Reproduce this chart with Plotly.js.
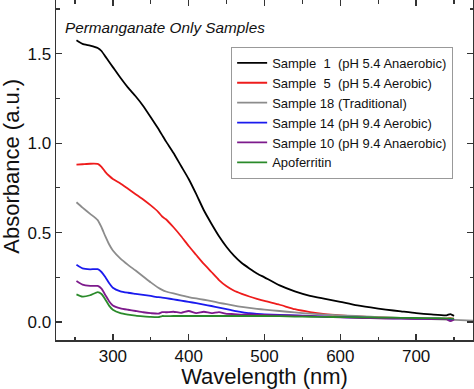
<!DOCTYPE html>
<html>
<head>
<meta charset="utf-8">
<script src="https://cdn.plot.ly/plotly-3.0.1.min.js"></script>
<style>html,body{margin:0;padding:0;background:#fff;}#chart{width:474px;height:389px;}</style>
</head>
<body>
<div id="chart"></div>
<script>
const wavelength = [252, 260, 270, 280, 285, 290, 295, 300, 310, 320, 330, 340, 350, 360, 365, 370, 380, 390, 400, 410, 420, 430, 440, 450, 460, 470, 480, 490, 500, 520, 540, 560, 580, 600, 620, 640, 660, 680, 700, 720, 740, 745, 750];

const sample1 = [1.575, 1.555, 1.545, 1.532, 1.515, 1.485, 1.455, 1.425, 1.365, 1.31, 1.262, 1.208, 1.145, 1.08, 1.045, 1.01, 0.945, 0.872, 0.80, 0.715, 0.625, 0.55, 0.48, 0.42, 0.37, 0.33, 0.30, 0.272, 0.25, 0.205, 0.172, 0.147, 0.13, 0.113, 0.095, 0.082, 0.07, 0.06, 0.05, 0.043, 0.038, 0.045, 0.035];
const sample5 = [0.88, 0.882, 0.885, 0.884, 0.868, 0.84, 0.818, 0.80, 0.775, 0.745, 0.715, 0.685, 0.652, 0.615, 0.59, 0.575, 0.53, 0.48, 0.425, 0.375, 0.325, 0.28, 0.235, 0.20, 0.175, 0.158, 0.143, 0.13, 0.118, 0.097, 0.072, 0.056, 0.045, 0.038, 0.032, 0.028, 0.025, 0.023, 0.021, 0.02, 0.019, 0.022, 0.018];
const sample18 = [0.67, 0.64, 0.605, 0.57, 0.53, 0.48, 0.435, 0.40, 0.355, 0.32, 0.288, 0.255, 0.222, 0.192, 0.18, 0.171, 0.16, 0.15, 0.14, 0.132, 0.125, 0.117, 0.108, 0.10, 0.092, 0.085, 0.079, 0.074, 0.07, 0.062, 0.054, 0.047, 0.042, 0.038, 0.034, 0.03, 0.026, 0.023, 0.02, 0.017, 0.014, 0.013, 0.012];
const sample18TailWl = [775];
const sample18Tail = [0.008];
const sample14 = [0.32, 0.30, 0.295, 0.296, 0.28, 0.252, 0.218, 0.192, 0.172, 0.164, 0.158, 0.152, 0.146, 0.139, 0.137, 0.134, 0.127, 0.12, 0.113, 0.106, 0.098, 0.09, 0.081, 0.072, 0.063, 0.056, 0.05, 0.046, 0.043, 0.04, 0.037, 0.034, 0.03, 0.028, 0.026, 0.024, 0.022, 0.021, 0.02, 0.019, 0.018, 0.012, 0.018];
const sample10 = [0.23, 0.21, 0.203, 0.202, 0.187, 0.152, 0.117, 0.093, 0.077, 0.069, 0.062, 0.055, 0.05, 0.047, 0.056, 0.055, 0.058, 0.052, 0.062, 0.05, 0.058, 0.05, 0.056, 0.046, 0.045, 0.042, 0.043, 0.041, 0.04, 0.038, 0.036, 0.033, 0.03, 0.027, 0.024, 0.022, 0.02, 0.019, 0.018, 0.017, 0.016, 0.005, 0.015];
const apoferritin = [0.155, 0.142, 0.15, 0.168, 0.157, 0.127, 0.092, 0.069, 0.05, 0.042, 0.036, 0.032, 0.029, 0.028, 0.034, 0.033, 0.034, 0.034, 0.034, 0.034, 0.034, 0.034, 0.034, 0.034, 0.034, 0.034, 0.034, 0.034, 0.034, 0.033, 0.031, 0.03, 0.029, 0.028, 0.027, 0.026, 0.025, 0.024, 0.023, 0.022, 0.021, 0.02, 0.02];

const seriesNames = [
  "Sample\u00a0\u00a01\u00a0\u00a0(pH 5.4 Anaerobic)",
  "Sample\u00a0\u00a05\u00a0\u00a0(pH 5.4 Aerobic)",
  "Sample 18 (Traditional)",
  "Sample 14 (pH 9.4 Aerobic)",
  "Sample 10 (pH 9.4 Anaerobic)",
  "Apoferritin"
];
const seriesColors = ["#000000", "#ee1c1c", "#8c8c8c", "#1a1aee", "#7d1a8c", "#2a8a2a"];
const seriesValues = [sample1, sample5, sample18, sample14, sample10, apoferritin];

const traces = seriesValues.map((vals, i) => {
  let xs = wavelength.slice(), ys = vals.slice();
  if (i === 2) { xs = xs.concat(sample18TailWl); ys = ys.concat(sample18Tail); }
  return {
    x: xs, y: ys, type: "scatter", mode: "lines", name: seriesNames[i],
    line: {color: seriesColors[i], width: 1.8, shape: "spline", smoothing: 0.5}
  };
});

const FONT = "Liberation Sans, Arial, sans-serif";
const axisCommon = {
  showline: true, linecolor: "#333", linewidth: 1.5, mirror: "ticks",
  ticks: "inside", ticklen: 6, tickwidth: 1.3, tickcolor: "#333",
  showgrid: false, zeroline: false,
  tickfont: {family: FONT, size: 17, color: "#111"}
};

const layout = {
  width: 474, height: 389,
  margin: {l: 56, r: 1, t: 0, b: 49},
  paper_bgcolor: "#fff", plot_bgcolor: "#fff",
  showlegend: true,
  legend: {
    x: 0.42, y: 0.862, xanchor: "left", yanchor: "top",
    bgcolor: "#fff", bordercolor: "#999", borderwidth: 1,
    font: {family: FONT, size: 13, color: "#111"},
    tracegroupgap: 0
  },
  xaxis: Object.assign({}, axisCommon, {
    range: [225, 775], dtick: 100, tick0: 0,
    minor: {dtick: 50, ticks: "inside", ticklen: 3.5, tickcolor: "#333", tickwidth: 1.2},
    title: {text: "Wavelength (nm)", font: {family: FONT, size: 22, color: "#111"}, standoff: 4}
  }),
  yaxis: Object.assign({}, axisCommon, {
    range: [-0.1, 1.8], dtick: 0.5, tick0: 0, tickformat: ".1f",
    minor: {dtick: 0.25, ticks: "inside", ticklen: 3.5, tickcolor: "#333", tickwidth: 1.2}
  }),
  annotations: [{
    text: "<i>Permanganate Only Samples</i>", xref: "paper", yref: "paper",
    x: 0.017, y: 0.92, xanchor: "left", yanchor: "middle", showarrow: false,
    font: {family: FONT, size: 15.3, color: "#111"}
  }, {
    text: "Absorbance (a.u.)", xref: "paper", yref: "paper",
    x: -0.106, y: 0.512, xanchor: "center", yanchor: "middle", textangle: -90, showarrow: false,
    font: {family: FONT, size: 22, color: "#111"}
  }]
};

Plotly.newPlot("chart", traces, layout, {displayModeBar: false, staticPlot: true});
</script>
</body>
</html>
